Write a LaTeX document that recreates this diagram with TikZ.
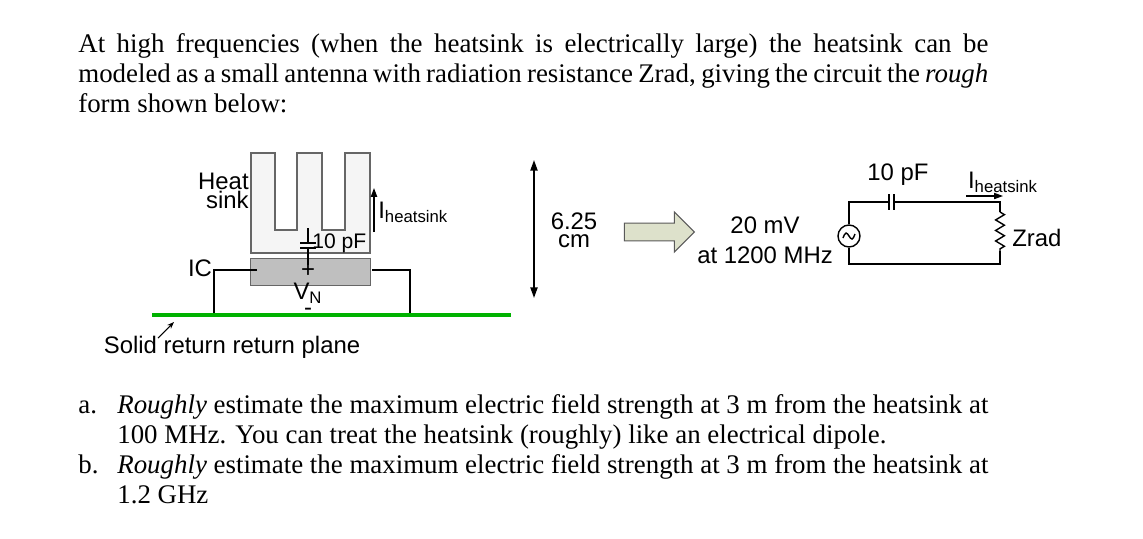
\documentclass[tikz,border=0pt]{standalone}
\usepackage{fontspec}
\setmainfont{Liberation Serif}
\newfontfamily\arialf{Liberation Sans}
\usetikzlibrary{arrows.meta,decorations.pathmorphing,shapes.arrows}
\definecolor{fatc}{HTML}{DDE1CB}
\begin{document}
\begin{tikzpicture}[x=0.02cm,y=-0.02cm,
  para/.style={anchor=north west,inner sep=0,align=justify,text width=910*0.02cm,font=\fontsize{15.3}{17}\selectfont},
  lbl/.style={inner sep=0,font=\arialf\fontsize{13.6}{13}\selectfont},
  wire/.style={line width=1pt},
  arr/.style={-{Triangle[length=5pt,width=3.5pt]},line width=0.8pt}]
\useasboundingbox (0,0) rectangle (1143,538);
\node[para] (p1) at (78,33) {At high frequencies (when the heatsink is electrically large) the heatsink can be\linebreak modeled as a small antenna with radiation resistance Zrad, giving the circuit the \textit{rough}\linebreak form shown below:};
% heatsink
\draw[fill=gray!8,draw=gray!80!black,line width=0.8pt] (251,153)--(275,153)--(275,230)--(297,230)--(297,153)--(322,153)--(322,230)--(345,230)--(345,153)--(370,153)--(370,253)--(251,253)--cycle;
\node[draw=gray!80!black,fill=gray!50,line width=0.8pt,minimum width=120*0.02cm,minimum height=27*0.02cm,inner sep=0,anchor=north west] (ic) at (250,258) {};
\draw[wire] (257,270)--(214,270)--(214,315);
\draw[wire] (372,270)--(410,270)--(410,315);
\draw[green!70!black,line width=2pt] (152,315)--(511,315);
% capacitor in heatsink
\draw[wire] (308,228)--(308,243) (300,243)--(316,243) (300,248)--(316,248) (308,248)--(308,265);
\node[lbl,anchor=west,font=\arialf\fontsize{12}{12}\selectfont] (c1) at (312,243) {10 pF};
\node[lbl] (plus) at (308,271) {+};
\node[lbl] (vn) at (308,293) {V\textsubscript{N}};
\node[lbl] (minus) at (308,312) {-};
\draw[arr] (374,232)--(374,188);
\node[lbl,anchor=west] (ih) at (378,212) {I\textsubscript{heatsink}};
\node[lbl,anchor=east,align=right,font=\arialf\fontsize{13.6}{11}\selectfont] (hs) at (249,191) {Heat\\sink};
\node[lbl] (icl) at (200,268) {IC};
\node[lbl] (plane) at (232,347) {Solid return return plane};
\draw[-{Stealth[length=4pt]},line width=0.6pt] (158,338)--(174,322);
% dimension
\draw[{Triangle[length=6pt,width=4pt]}-{Triangle[length=6pt,width=4pt]},line width=1pt] (534,160)--(534,298);
\node[lbl,align=center,font=\arialf\fontsize{13.6}{10.5}\selectfont] (dim) at (574,230) {6.25\\cm};
% fat arrow
\node[single arrow,draw=gray!70!black,fill=fatc,minimum height=70*0.02cm,minimum width=40*0.02cm,single arrow head extend=0.2cm,inner sep=0,line width=0.6pt] (fat) at (655,232) {\rule{0pt}{0.3cm}\hspace{0.9cm}};
\node[lbl] (v20) at (765,225) {20 mV};
\node[lbl] (f) at (765,255) {at 1200 MHz};
% circuit
\node[draw,circle,minimum size=22*0.02cm,inner sep=0,line width=0.8pt] (src) at (849,236) {};
\draw[line width=0.8pt] (843,238) sin (846,233) cos (849,236) sin (852,239) cos (855,234);
\coordinate (tl) at (849,202); \coordinate (tr) at (1000,202);
\coordinate (bl) at (849,264); \coordinate (br) at (1000,264);
\draw[line width=0.8pt] (src.north)--(tl)--(889,202) (894,202)--(tr)--(1000,212);
\draw[line width=0.8pt] (889,194)--(889,210) (894,194)--(894,210);
\draw[line width=0.8pt,decorate,decoration={zigzag,segment length=6pt,amplitude=2.5pt}] (1000,212)--(1000,251);
\draw[line width=0.8pt] (1000,251)--(br)--(bl)--(src.south);
\node[lbl] (c2) at (898,175) {10 pF};
\draw[arr,line width=0.6pt] (966,196)--(1003,196);
\node[lbl] (ih2) at (1003,182) {I\textsubscript{heatsink}};
\node[lbl,anchor=west] (zr) at (1012,238) {Zrad};
% questions
\node[para,text width=30*0.02cm] (a) at (78,392) {\strut a.};
\node[para,text width=871*0.02cm] (qa) at (117,392) {\strut\textit{Roughly} estimate the maximum electric field strength at 3 m from the heatsink at\linebreak 100 MHz. You can treat the heatsink (roughly) like an electrical dipole.};
\node[para,text width=30*0.02cm] (b) at (78,452) {\strut b.};
\node[para,text width=871*0.02cm] (qb) at (117,452) {\strut\textit{Roughly} estimate the maximum electric field strength at 3 m from the heatsink at\linebreak 1.2 GHz};
\end{tikzpicture}
\end{document}
